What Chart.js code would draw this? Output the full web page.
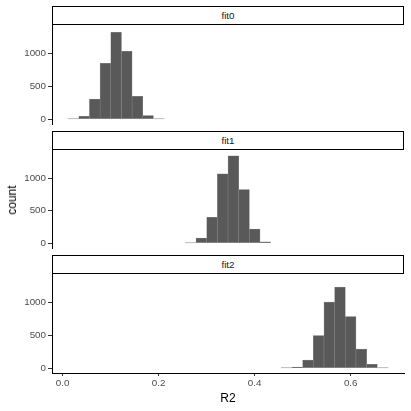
<!DOCTYPE html>
<html><head><meta charset="utf-8">
<script src="https://cdn.jsdelivr.net/npm/chart.js@4.4.1/dist/chart.umd.min.js"></script>
<style>
html,body{margin:0;padding:0;background:#fff;}
#wrap{position:relative;width:411px;height:411px;overflow:hidden;font-family:"Liberation Sans",Arial,Helvetica,sans-serif;}
canvas{position:absolute;left:0;}
.strip{position:absolute;left:52px;width:352px;height:19px;border:1.4px solid #000;box-sizing:border-box;background:#fff;color:#1a1a1a;font-size:9.8px;display:flex;align-items:center;justify-content:center;z-index:5;}
.title{position:absolute;color:#000;font-size:12px;line-height:14px;z-index:5;}
</style></head><body>
<div id="wrap">
  <canvas id="c0" width="411" height="119" style="top:15px"></canvas>
  <canvas id="c1" width="411" height="118" style="top:140px"></canvas>
  <canvas id="c2" width="411" height="147" style="top:264px"></canvas>
  <div class="strip" id="s0" style="top:6px"></div>
  <div class="strip" id="s1" style="top:131px"></div>
  <div class="strip" id="s2" style="top:255px"></div>
  <div class="title" id="ytitle" style="left:12px;top:200px;transform:translate(-50%,-50%) rotate(-90deg);white-space:nowrap;">count</div>
  <div class="title" id="xtitle" style="left:228px;top:398px;transform:translate(-50%,-50%);">R2</div>
</div>
<script>
// ---- data ----
const panelNames = ['fit0', 'fit1', 'fit2'];
const binCenters = [0.0227, 0.0449, 0.0671, 0.0893, 0.1115, 0.1337, 0.1559, 0.1781, 0.2003, 0.2225,
                    0.2447, 0.2669, 0.2891, 0.3113, 0.3335, 0.3557, 0.3779, 0.4001, 0.4223, 0.4445,
                    0.4667, 0.4889, 0.5111, 0.5333, 0.5555, 0.5777, 0.5999, 0.6221, 0.6443, 0.6665];
const fit0Counts = [3, 45, 308, 848, 1318, 1030, 348, 56, 3, 0,
                    0, 0, 0, 0, 0, 0, 0, 0, 0, 0,
                    0, 0, 0, 0, 0, 0, 0, 0, 0, 0];
const fit1Counts = [0, 0, 0, 0, 0, 0, 0, 0, 0, 0,
                    0, 3, 81, 399, 1066, 1340, 823, 217, 25, 0,
                    0, 0, 0, 0, 0, 0, 0, 0, 0, 0];
const fit2Counts = [0, 0, 0, 0, 0, 0, 0, 0, 0, 0,
                    0, 0, 0, 0, 0, 0, 0, 0, 0, 0,
                    2, 20, 126, 495, 1005, 1232, 783, 293, 61, 3];
const xTicks = [0, 0.2, 0.4, 0.6];
const yTicks = [0, 500, 1000];

const FONT = '"Liberation Sans", Arial, Helvetica, sans-serif';

function makeChart(id, counts, showX, padBottom) {
  const pts = [];
  counts.forEach((c, i) => { if (c > 0) pts.push({x: binCenters[i], y: c}); });
  return new Chart(document.getElementById(id), {
    type: 'bar',
    data: {datasets: [{
      data: pts,
      backgroundColor: ctx => (ctx.raw && ctx.raw.y < 10) ? '#c2c2c2' : '#595959',
      borderColor: '#8e8e8e',
      borderWidth: ctx => (ctx.raw && ctx.raw.y < 10) ? 0 : 0.5,
      minBarLength: 1,
      barPercentage: 1,
      categoryPercentage: 1
    }]},
    options: {
      responsive: false,
      animation: false,
      layout: {padding: {left: 0, right: 7, top: 10, bottom: padBottom}},
      plugins: {legend: {display: false}, tooltip: {enabled: false}},
      scales: {
        x: {
          type: 'linear', min: -0.022, max: 0.711, display: showX, offset: false,
          afterBuildTicks: s => { s.ticks = xTicks.map(v => ({value: v})); },
          afterFit: s => { s.height = showX ? 20 : 0; },
          grid: {display: true, offset: false, drawOnChartArea: false, drawTicks: true, tickLength: 3, tickColor: '#333333', tickWidth: 1},
          border: {display: true, color: '#000', width: 1},
          ticks: {padding: 1, color: '#4d4d4d', font: {family: FONT, size: 9.8}, maxRotation: 0, autoSkip: false,
                  callback: v => Number(v).toFixed(1)}
        },
        y: {
          min: -71, max: 1429,
          afterBuildTicks: s => { s.ticks = yTicks.map(v => ({value: v})); },
          afterFit: s => { s.width = 52; },
          grid: {display: true, drawOnChartArea: false, drawTicks: true, tickLength: 4, tickColor: '#333333', tickWidth: 1},
          border: {display: true, color: '#000', width: 1},
          ticks: {padding: 2, color: '#4d4d4d', font: {family: FONT, size: 9.8}, autoSkip: false,
                  callback: v => String(v)}
        }
      }
    }
  });
}

panelNames.forEach((n, i) => { document.getElementById('s' + i).textContent = n; });
makeChart('c0', fit0Counts, false, 10);
makeChart('c1', fit1Counts, false, 10);
makeChart('c2', fit2Counts, true, 18);
</script>
</body></html>
